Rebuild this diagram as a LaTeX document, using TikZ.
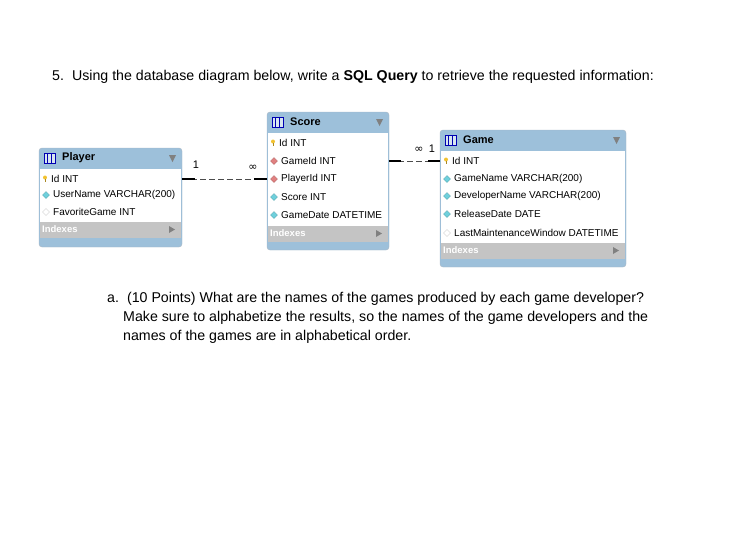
\documentclass[tikz,border=0pt]{standalone}
\usepackage{fontspec}
\setmainfont{Liberation Sans}
\newfontfamily\djv{DejaVu Sans}
\definecolor{hdr}{HTML}{9DC0DA}
\definecolor{idx}{HTML}{C4C4C4}
\definecolor{bord}{HTML}{A9B8C4}
\definecolor{keyc}{HTML}{F2C230}
\definecolor{fkc}{HTML}{E08080}
\definecolor{atc}{HTML}{6FD0DC}
\tikzset{
 txt/.style={anchor=west,inner sep=0pt,font=\fontsize{10}{11}\selectfont},
 ttl/.style={anchor=west,inner sep=0pt,font=\bfseries\fontsize{11}{12}\selectfont},
 idxt/.style={anchor=west,inner sep=0pt,font=\bfseries\fontsize{9.5}{10}\selectfont,text=white},
 card/.style={inner sep=0pt,font=\fontsize{11}{12}\selectfont},
 rel/.style={dashed,dash pattern=on 6pt off 3pt,line width=0.8pt,black!70},
 thick end/.style={line width=2pt},
 body/.style={font=\fontsize{14.2}{16}\selectfont,anchor=west,inner sep=0pt}
}
\newcommand{\tbl}[7]{% name x1 x2 ytop yhdrbot yidx ybot
 \fill[hdr,rounded corners=3pt] (#2,#4) rectangle (#3,#7);
 \fill[white] (#2+1,#5) rectangle (#3-1,#6);
 \fill[idx] (#2+1,#6) rectangle (#3-1,#6+16);
 \draw[bord,rounded corners=3pt] (#2,#4) rectangle (#3,#7);
 \draw[blue!70!black,fill=hdr!40] (#2+5,#4+5) rectangle (#2+16,#4+15);
 \draw[blue!70!black] (#2+8.5,#4+6)--(#2+8.5,#4+15) (#2+12,#4+6)--(#2+12,#4+15);
 \node[ttl] (#1) at (#2+23,#4+10) {#1};
 \fill[gray] (#3-13,#4+7)--(#3-6,#4+7)--(#3-9.5,#4+14)--cycle;
 \node[idxt] (#1idx) at (#2+3,#6+7) {Indexes};
 \fill[gray] (#3-13,#6+4)--(#3-13,#6+11)--(#3-7,#6+7.5)--cycle;
}
\newcommand{\keyic}[2]{\fill[keyc] (#1,#2-1.5) circle (2pt); \draw[keyc!70!black,line width=1pt] (#1,#2)--(#1,#2+3);}
\newcommand{\dia}[3]{\filldraw[fill=#3,draw=#3!70!black,line width=0.3pt] (#1-3.5,#2)--(#1,#2-3.5)--(#1+3.5,#2)--(#1,#2+3.5)--cycle;}
\begin{document}
\begin{tikzpicture}[x=1pt,y=-1pt]
\useasboundingbox (0,0) rectangle (733,547);
\node[body] (q) at (52,77) {5.\hspace{8pt}Using the database diagram below, write a \textbf{SQL Query} to retrieve the requested information:};
% Player
\tbl{Player}{39}{182}{148}{169}{222}{247}
\keyic{45}{179}\node[txt] (p1) at (51,179) {Id INT};
\dia{46}{195}{atc}\node[txt] (p2) at (53,195) {UserName VARCHAR(200)};
\dia{46}{212}{white}\node[txt] (p3) at (53,212) {FavoriteGame INT};
% Score
\tbl{Score}{267}{389}{112}{133}{226}{250}
\keyic{273}{143}\node[txt] (s1) at (279,143) {Id INT};
\dia{274}{161}{fkc}\node[txt] (s2) at (281,161) {GameId INT};
\dia{274}{179}{fkc}\node[txt] (s3) at (281,179) {PlayerId INT};
\dia{274}{197}{atc}\node[txt] (s4) at (281,197) {Score INT};
\dia{274}{215}{atc}\node[txt] (s5) at (281,215) {GameDate DATETIME};
% Game
\tbl{Game}{440}{626}{130}{151}{243}{267}
\keyic{446}{161}\node[txt] (g1) at (452,161) {Id INT};
\dia{447}{179}{atc}\node[txt] (g2) at (454,179) {GameName VARCHAR(200)};
\dia{447}{196}{atc}\node[txt] (g3) at (454,196) {DeveloperName VARCHAR(200)};
\dia{447}{214}{atc}\node[txt] (g4) at (454,214) {ReleaseDate DATE};
\dia{447}{233}{white}\node[txt] (g5) at (454,233) {LastMaintenanceWindow DATETIME};
% relations
\coordinate (pa) at (182,179); \coordinate (sa) at (267,179);
\draw[rel] (pa)--(sa);
\draw[thick end] (pa)--++(13,0); \draw[thick end] (sa)--++(-13,0);
\node[card] (c1) at (196,165) {1};
\node[card] (c2) at (253,168) {\djv ∞};
\coordinate (sb) at (389,161); \coordinate (gb) at (440,161);
\draw[rel] (sb)--(gb);
\draw[thick end] (sb)--++(12,0); \draw[thick end] (gb)--++(-12,0);
\node[card] (c3) at (419,150) {\djv ∞};
\node[card] (c4) at (432,149) {1};
\node[body] (a) at (107,299) {a.\hspace{8pt}(10 Points) What are the names of the games produced by each game developer?};
\node[body] (a2) at (123,318) {Make sure to alphabetize the results, so the names of the game developers and the};
\node[body] (a3) at (123,337) {names of the games are in alphabetical order.};
\end{tikzpicture}
\end{document}
